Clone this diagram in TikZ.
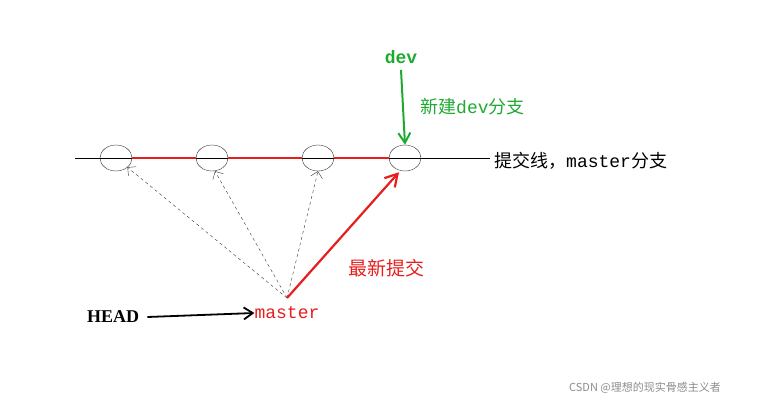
\documentclass[tikz,border=0pt]{standalone}
\usepackage{fontspec}
\setmainfont{Liberation Serif}
\setmonofont{Liberation Mono}
\newfontfamily\cjk{Noto Sans CJK SC}
\usetikzlibrary{arrows.meta,shapes.geometric}
\definecolor{gitred}{RGB}{230,30,30}
\definecolor{gitgreen}{RGB}{30,170,50}
\begin{document}
\begin{tikzpicture}[x=1pt,y=-1pt,
  commit/.style={draw=black!80,ellipse,minimum width=32pt,minimum height=26pt,inner sep=0pt,thin},
  dasharrow/.style={dashed,black!80,-{Straight Barb[length=6pt]},thin},
  lbl/.style={inner sep=0pt,font=\fontsize{18}{18}\selectfont}]
\useasboundingbox (0,0) rectangle (765,407);
\draw[thin] (75,158) coordinate (ls) -- (490,158) coordinate (le);
\node[commit] (c1) at (116,158) {};
\node[commit] (c2) at (212,158) {};
\node[commit] (c3) at (318,158) {};
\node[commit] (c4) at (405,158) {};
\draw[gitred,line width=2pt] (c1.east) -- (c2.west) (c2.east) -- (c3.west) (c3.east) -- (c4.west);
\coordinate (apex) at (287,298);
\draw[dasharrow] (apex) -- (c1.south east);
\draw[dasharrow] (apex) -- ([xshift=3pt]c2.south);
\draw[dasharrow] (apex) -- (c3.south);
\draw[gitred,line width=2.2pt,-{Straight Barb[length=12pt,width=14pt]}] (apex) -- ([xshift=-6pt,yshift=-1pt]c4.south);
\node[lbl,text=gitred,font=\ttfamily\fontsize{18}{18}\selectfont] (master) at (287,313) {master};
\node[lbl,font=\bfseries\fontsize{18}{18}\selectfont,anchor=west] (head) at (87,317) {HEAD};
\draw[line width=1.8pt,-{Straight Barb[length=9pt,width=12pt]}] ([xshift=8pt]head.east) -- (master.west);
\node[lbl,text=gitgreen,font=\ttfamily\bfseries\fontsize{18}{18}\selectfont] (dev) at (401,57) {dev};
\draw[gitgreen,line width=2pt,-{Straight Barb[length=10pt,width=12pt]}] ([yshift=-6pt]dev.south) -- (c4.north);
\node[lbl,text=gitgreen,anchor=west] (newdev) at (420,107) {{\cjk 新建}\texttt{dev}{\cjk 分支}};
\node[lbl,anchor=west] (line) at (494,161) {{\cjk 提交线，}\texttt{master}{\cjk 分支}};
\node[lbl,text=gitred,anchor=west,font=\cjk\fontsize{19}{19}\selectfont] (latest) at (348,268) {最新提交};
\node[inner sep=0pt,text=black!45,font=\cjk\fontsize{11}{11}\selectfont] (wm) at (645,388) {CSDN @理想的现实骨感主义者};
\end{tikzpicture}
\end{document}
